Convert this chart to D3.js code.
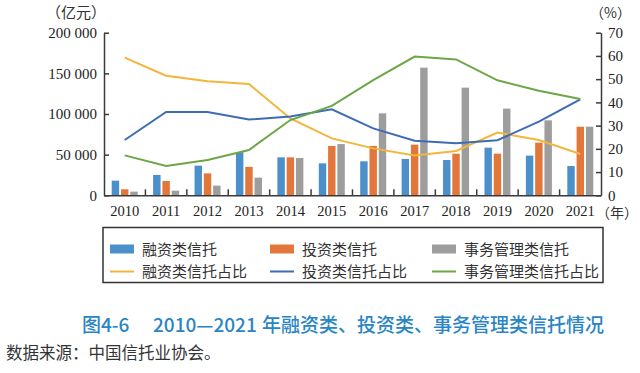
<!DOCTYPE html>
<html>
<head>
<meta charset="utf-8">
<script src="https://cdn.jsdelivr.net/npm/d3@7"></script>
<style>
  body { margin: 0; background: #fff; }
  svg { display: block; }
</style>
</head>
<body>
<svg width="640" height="373"></svg>
<script>
var years = ["2010","2011","2012","2013","2014","2015","2016","2017","2018","2019","2020","2021"];
// 规模（亿元）
var rongzi = [18000, 25000, 36500, 53000, 46700, 39300, 41800, 44700, 43400, 58600, 48800, 36000];
var touzi = [7400, 17600, 27000, 35000, 46700, 60700, 60700, 62300, 51200, 51200, 64800, 84400];
var shiwu = [4500, 5700, 11900, 21700, 45900, 63000, 100800, 157000, 132400, 106600, 92200, 84400];
// 占比（%）
var rongziPct = [59.3, 51.5, 49.1, 47.9, 33.1, 24.5, 20.2, 17.1, 19.1, 27.0, 23.8, 17.8];
var touziPct = [23.8, 35.9, 35.9, 32.6, 33.9, 37.0, 28.8, 23.5, 22.4, 23.7, 31.7, 41.3];
var shiwuPct = [17.2, 12.6, 15.2, 19.5, 32.4, 38.5, 49.6, 59.7, 58.5, 49.5, 45.0, 41.5];
var leftTicks = [0, 50000, 100000, 150000, 200000];
var rightTicks = [0, 10, 20, 30, 40, 50, 60, 70];

var barNames = ["融资类信托", "投资类信托", "事务管理类信托"];
var lineNames = ["融资类信托占比", "投资类信托占比", "事务管理类信托占比"];
var barColors = ["#4b8fcb", "#e3773b", "#9d9d9e"];
var lineColors = ["#f3b53c", "#3d6cb4", "#6ca646"];

var serif = "'Liberation Serif', 'DejaVu Serif', serif";
var cjk = "'Noto Sans CJK SC', sans-serif";
var axisColor = "#3a3a3a";

var svg = d3.select("svg");
var pLeft = 104, pRight = 601, pTop = 32.7, pBottom = 195.3;

var x = d3.scaleBand().domain(years).range([pLeft, pRight]).padding(0);
var inner = d3.scaleBand().domain([0, 1, 2]).range([-13, 13]).paddingInner(0.2);
var yL = d3.scaleLinear().domain([0, 200000]).range([pBottom, pTop]);
var yR = d3.scaleLinear().domain([0, 70]).range([pBottom, pTop]);

var fmt = d3.formatLocale({decimal: ".", thousands: " ", grouping: [3], currency: ["", ""]}).format(",");

// bars
var barSeries = [rongzi, touzi, shiwu];
barSeries.forEach(function (vals, i) {
    svg.append("g").selectAll("rect")
        .data(vals)
        .enter().append("rect")
        .attr("x", function (d, j) { return x(years[j]) + x.bandwidth() / 2 + inner(i); })
        .attr("y", function (d) { return yL(d); })
        .attr("width", inner.bandwidth())
        .attr("height", function (d) { return pBottom - yL(d); })
        .attr("fill", barColors[i]);
});

// lines
var lineSeries = [rongziPct, touziPct, shiwuPct];
var line = d3.line()
    .x(function (d, j) { return x(years[j]) + x.bandwidth() / 2; })
    .y(function (d) { return yR(d); });
lineSeries.forEach(function (vals, i) {
    svg.append("path")
        .attr("d", line(vals))
        .attr("fill", "none")
        .attr("stroke", lineColors[i])
        .attr("stroke-width", 2);
});

// axes
function styleAxis(g) {
    g.select(".domain").attr("stroke", axisColor).attr("stroke-width", 1.5);
    g.selectAll("line").attr("stroke", axisColor).attr("stroke-width", 1.5);
    g.selectAll("text").attr("fill", "#222").attr("font-family", serif).attr("font-size", 15);
}

var axL = svg.append("g").attr("transform", "translate(" + pLeft + ",0)")
    .call(d3.axisLeft(yL).tickValues(leftTicks).tickSizeInner(-5).tickSizeOuter(0).tickPadding(7).tickFormat(fmt));
styleAxis(axL);

var axR = svg.append("g").attr("transform", "translate(" + pRight + ",0)")
    .call(d3.axisRight(yR).tickValues(rightTicks).tickSizeInner(-5).tickSizeOuter(0).tickPadding(7));
styleAxis(axR);

var axB = svg.append("g").attr("transform", "translate(0," + pBottom + ")")
    .call(d3.axisBottom(x).tickSize(0).tickPadding(10));
styleAxis(axB);
axB.selectAll("text").attr("font-size", 14.5);
// separators between categories
axB.selectAll(".sep").data(years.slice(1)).enter().append("line")
    .attr("x1", function (d) { return x(d); })
    .attr("x2", function (d) { return x(d); })
    .attr("y1", 0).attr("y2", -6)
    .attr("stroke", axisColor).attr("stroke-width", 1.5);

// units
svg.append("text").attr("x", 46).attr("y", 18).attr("font-family", cjk).attr("font-size", 15)
    .attr("fill", "#333").text("（亿元）");
svg.append("text").attr("x", 590).attr("y", 18).attr("font-family", cjk).attr("font-size", 14)
    .attr("fill", "#333").text("（%）");
svg.append("text").attr("x", 596).attr("y", 218).attr("font-family", cjk).attr("font-size", 14)
    .attr("fill", "#333").text("（年）");

// legend
var lg = svg.append("g");
lg.append("rect").attr("x", 103).attr("y", 227.5).attr("width", 500).attr("height", 55)
    .attr("fill", "#fff").attr("stroke", "#333").attr("stroke-width", 1.5);
var colX = [110, 270, 432];
barNames.forEach(function (name, i) {
    lg.append("rect").attr("x", colX[i]).attr("y", 244.5).attr("width", 24).attr("height", 9).attr("fill", barColors[i]);
    lg.append("text").attr("x", colX[i] + 32).attr("y", 254.5).attr("font-family", cjk).attr("font-size", 15)
        .attr("fill", "#333").text(name);
});
lineNames.forEach(function (name, i) {
    lg.append("line").attr("x1", colX[i]).attr("x2", colX[i] + 24).attr("y1", 271.5).attr("y2", 271.5)
        .attr("stroke", lineColors[i]).attr("stroke-width", 2);
    lg.append("text").attr("x", colX[i] + 32).attr("y", 277).attr("font-family", cjk).attr("font-size", 15)
        .attr("fill", "#333").text(name);
});

// caption
var cap = svg.append("text").attr("y", 332).attr("font-family", cjk).attr("font-size", 19)
    .attr("font-weight", 500).attr("fill", "#2a85c5");
cap.append("tspan").attr("x", 82).text("图4-6");
cap.append("tspan").attr("x", 153).text("2010—2021");
cap.append("tspan").attr("x", 262).text("年融资类、投资类、事务管理类信托情况");
svg.append("text").attr("x", 6).attr("y", 359).attr("font-family", cjk).attr("font-size", 16.5)
    .attr("fill", "#333").text("数据来源：中国信托业协会。");
</script>
</body>
</html>
